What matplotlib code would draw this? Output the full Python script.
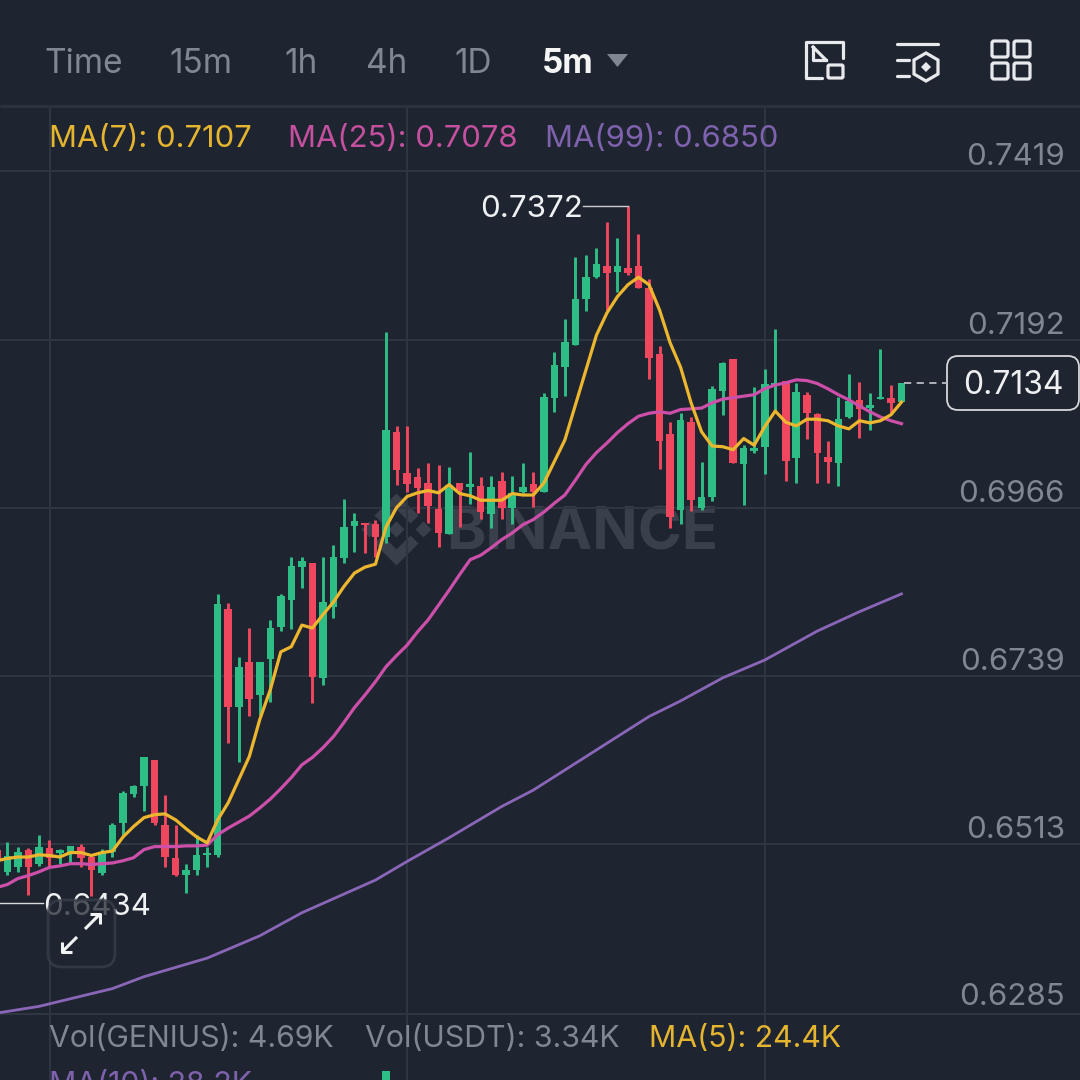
import numpy as np
import matplotlib
matplotlib.use('Agg')
import matplotlib.pyplot as plt
from matplotlib.patches import FancyBboxPatch, Polygon

# candle data (first candle is the one cut by the left edge)
sides = ('RGGRGRGGRR' 'GGGGGRRRGG' 'GGRGRGGGGG' 'RGGGGRRGRR' 'RRRGRGRGRG'
         'GRGGGGGGRG' 'RRRRRGRGGG' 'RGGGGRGRRR' 'GGRGGRG')
highs = [.6508,.6516,.6510,.6508,.6525,.6519,.6507,.6511,.6514,.6499,
         .6507,.6542,.6585,.6593,.6630,.6627,.6580,.6539,.6487,.6526,
         .6510,.6850,.6838,.6765,.6804,.6759,.6815,.6850,.6900,.6900,
         .6892,.6900,.6916,.6978,.6959,.6946,.6950,.7202,.7076,.7076,
         .7020,.7026,.7024,.7021,.6999,.7041,.7007,.7009,.7014,.7009,
         .7026,.7014,.7120,.7176,.7220,.7303,.7306,.7315,.7350,.7329,
         .7372,.7334,.7274,.7184,.7081,.7093,.7088,.7028,.7130,.7162,
         .7166,.7050,.7128,.7153,.7207,.7137,.7134,.7122,.7093,.7056,
         .7115,.7146,.7135,.7120,.7180,.7131,.7134]
body_top = [.6506,.6498,.6503,.6506,.6510,.6508,.6506,.6511,.6510,.6496,
            .6502,.6539,.6582,.6592,.6630,.6627,.6539,.6494,.6479,.6499,
            .6502,.6837,.6829,.6752,.6759,.6759,.6804,.6847,.6888,.6894,
            .6892,.6839,.6900,.6940,.6948,.6946,.6944,.7071,.7068,.7013,
            .7007,.6999,.6964,.6997,.6999,.6998,.6995,.6994,.7002,.6986,
            .6994,.6998,.7115,.7158,.7189,.7247,.7276,.7294,.7291,.7291,
            .7289,.7291,.7262,.7173,.7065,.7084,.7081,.6981,.7126,.7161,
            .7166,.7046,.7046,.7133,.7134,.7137,.7122,.7118,.7092,.7034,
            .7085,.7110,.7111,.7104,.7115,.7114,.7134]
body_bot = [.6490,.6476,.6482,.6483,.6486,.6495,.6502,.6502,.6495,.6479,
            .6475,.6503,.6542,.6581,.6592,.6542,.6496,.6472,.6472,.6479,
            .6499,.6499,.6698,.6698,.6709,.6714,.6763,.6806,.6842,.6886,
            .6738,.6737,.6833,.6898,.6942,.6943,.6927,.6927,.7017,.6998,
            .6993,.6968,.6932,.6931,.6990,.6994,.6960,.6958,.6966,.6966,
            .6987,.6987,.6987,.7114,.7155,.7185,.7247,.7276,.7282,.7283,
            .7282,.7262,.7167,.7056,.6954,.6963,.6976,.6966,.6981,.7123,
            .7026,.7025,.7042,.7048,.7131,.7029,.7033,.7093,.7040,.7028,
            .7026,.7088,.7099,.7100,.7112,.7107,.7108]
lows = [.6478,.6472,.6476,.6445,.6484,.6482,.6486,.6488,.6483,.6443,
        .6472,.6496,.6526,.6577,.6558,.6539,.6483,.6471,.6448,.6472,
        .6482,.6496,.6650,.6624,.6686,.6687,.6705,.6800,.6803,.6858,
        .6703,.6728,.6818,.6892,.6907,.6905,.6900,.6919,.6997,.6987,
        .6959,.6946,.6913,.6931,.6940,.6971,.6951,.6939,.6951,.6944,
        .6986,.6967,.6987,.7095,.7116,.7185,.7231,.7275,.7232,.7256,
        .7279,.7262,.7139,.7018,.6939,.6944,.6962,.6963,.6975,.7091,
        .7026,.6970,.7040,.7011,.7093,.7002,.6999,.7059,.6999,.6999,
        .6995,.7087,.7060,.7071,.7112,.7093,.7108]
ma7 = [.6491,.6494,.6496,.6496,.6499,.6498,.6496,.6502,.6502,.6498,
       .6502,.6504,.6523,.6537,.6549,.6553,.6554,.6546,.6534,.6523,
       .6515,.6546,.6569,.6600,.6631,.6681,.6721,.6772,.6779,.6808,
       .6804,.6822,.6839,.6860,.6878,.6886,.6890,.6940,.6966,.6981,
       .6986,.6989,.6986,.6997,.6985,.6982,.6976,.6976,.6976,.6985,
       .6983,.6983,.6999,.7028,.7057,.7104,.7151,.7198,.7228,.7250,
       .7266,.7276,.7266,.7232,.7188,.7155,.7107,.7068,.7049,.7048,
       .7044,.7059,.7050,.7075,.7096,.7081,.7076,.7085,.7085,.7083,
       .7076,.7072,.7083,.7080,.7083,.7091,.7108]
ma25 = [.6455,.6459,.6467,.6471,.6476,.6482,.6484,.6487,.6487,.6486,
        .6487,.6488,.6491,.6495,.6506,.6510,.6510,.6510,.6511,.6511,
        .6512,.6526,.6535,.6543,.6551,.6562,.6574,.6588,.6603,.6620,
        .6630,.6643,.6658,.6677,.6697,.6714,.6732,.6752,.6767,.6781,
        .6799,.6815,.6835,.6855,.6876,.6896,.6902,.6912,.6923,.6932,
        .6943,.6950,.6960,.6972,.6983,.7003,.7024,.7040,.7053,.7067,
        .7079,.7089,.7093,.7095,.7093,.7098,.7099,.7100,.7107,.7112,
        .7114,.7116,.7118,.7126,.7131,.7134,.7138,.7137,.7133,.7126,
        .7118,.7111,.7103,.7095,.7088,.7083,.7079]
ma99_idx = [-1, 3, 10, 13, 19, 24, 28, 35, 38, 42, 47, 50, 55, 61, 64, 68, 72, 77, 81, 85]
ma99 = [.6286,.6295,.6319,.6335,.6360,.6390,.6421,.6465,.6490,.6522,
        .6564,.6586,.6631,.6685,.6706,.6737,.6761,.6800,.6826,.6850]
grid_prices = [.7419, .7192, .6966, .6739, .6513, .6285]
grid_labels = ['0.7419', '0.7192', '0.6966', '0.6739', '0.6513', '0.6285']
tabs = ['Time', '15m', '1h', '4h', '1D']
vol_idx = [36]
vol_top = [.6208]

BG, GR = '#1F2530', '#303641'
UP, DOWN = '#2EBD85', '#F0475F'
YEL, MAG, PUR = '#EDB62F', '#CC4FAA', '#8A66B8'
GREY = '#7F8792'
plt.rcParams['font.family'] = ['Inter', 'DejaVu Sans']

fig = plt.figure(figsize=(10.8, 10.8), dpi=100)
fig.patch.set_facecolor(BG)

# pixel axes under and over the price axes
under = fig.add_axes([0, 0, 1, 1], zorder=0)
ax = fig.add_axes([0, 0, 1, 1], zorder=1)
over = fig.add_axes([0, 0, 1, 1], zorder=2)
for a in (under, over):
    a.set_xlim(0, 1080); a.set_ylim(1080, 0); a.axis('off')
    a.patch.set_alpha(0)

# --- grid + watermark ---
under.vlines([50, 407, 765], 107, 1080, color=GR, lw=1.5)
under.hlines(106, 0, 1080, color='#2C323D', lw=2.2)
cx, cy = 396.5, 529.5
wm = '#3A404B'
for pts in ([(0,-36),(22,-14),(14,-6),(0,-20),(-14,-6),(-22,-14)],
            [(0,36),(22,14),(14,6),(0,20),(-14,6),(-22,14)],
            [(-35,0),(-27,-8),(-19,0),(-27,8)],
            [(35,0),(27,-8),(19,0),(27,8)],
            [(-8,0),(0,-8),(8,0),(0,8)]):
    under.add_patch(Polygon([(cx+p[0], cy+p[1]) for p in pts], color=wm, lw=0))
under.text(446, 549, 'BINANCE', color=wm, fontsize=43, fontweight='bold', va='baseline')

# --- candles ---
idx = np.arange(-1, 86)
cols = [UP if s == 'G' else DOWN for s in sides]
ax.set_xlim(-0.694, 101.97)
ax.set_ylim(0.6196, 0.7649)
ax.patch.set_alpha(0)
for s in ax.spines.values():
    s.set_visible(False)
ax.set_xticks([])
ax.set_yticks(grid_prices)
ax.tick_params(left=False, labelleft=False)
ax.grid(True, axis='y', color=GR, lw=1.5)
ax.set_axisbelow(True)
ax.vlines(idx, lows, highs, color=cols, lw=2.1, zorder=2)
ax.bar(idx, np.array(body_top) - np.array(body_bot), bottom=body_bot, width=0.72,
       color=cols, lw=0, zorder=3)
ax.bar(vol_idx, np.array(vol_top) - 0.6196, bottom=0.6196, width=0.72, color=UP, lw=0, zorder=3)

# --- moving averages ---
ax.plot(ma99_idx, ma99, color=PUR, lw=2.0, zorder=4)
ax.plot(idx, ma25, color=MAG, lw=2.3, zorder=5)
ax.plot(idx, ma7, color=YEL, lw=2.3, zorder=6)

# --- price labels ---
for p, lab, off in zip(grid_prices, grid_labels, [6, 6, 6, 6, 6, 9]):
    ax.annotate(lab, (1, p), xycoords=('axes fraction', 'data'), xytext=(-15, off),
                textcoords='offset pixels', ha='right', va='baseline',
                color=GREY, fontsize=22.5)

# hi / lo markers
ax.annotate('0.7372', (59, 0.7372), xytext=(-45, -11), textcoords='offset pixels',
            ha='right', va='baseline', color='#F0F1F3', fontsize=22.5)
ax.plot([54.7, 59], [0.7372, 0.7372], color='#C9CCD1', lw=1)
ax.plot([-0.694, 3.4], [0.6434, 0.6434], color='#D8DADD', lw=1)
ax.text(3.4, 0.6434 - 12*0.0001345, '0.6434', color='#F0F1F3', fontsize=22.5, va='baseline')

# --- last price tag ---
over.hlines(383, 904, 947, color='#B9BCC2', lw=1.3, linestyles=(0, (4, 3)))
over.add_patch(FancyBboxPatch((947, 356), 132, 54, boxstyle='round,pad=0,rounding_size=11',
                              fc=BG, ec='#D5D7DB', lw=1.3))
over.text(1013, 394, '0.7134', color='#EEEFF1', fontsize=23, ha='center', va='baseline')

# --- expand button ---
over.add_patch(FancyBboxPatch((48, 900), 67, 67, boxstyle='round,pad=0,rounding_size=14',
                              fc=BG, ec='#3A404B', lw=2, alpha=0.75))
for xs, ys in ([(85, 100), (929, 914)], [(77, 62), (937, 952)],
               [(90, 100, 100), (914, 914, 924)], [(62, 62, 72), (942, 952, 952)]):
    over.plot(xs, ys, color='#F2F3F5', lw=2.2, solid_capstyle='butt')

# --- header ---
for t, x in zip(tabs, [44, 169, 284, 366, 454]):
    over.text(x, 73, t, color=GREY, fontsize=24, va='baseline')
over.text(542, 73, '5m', color='#F5F5F6', fontsize=24, fontweight='bold', va='baseline')
over.add_patch(Polygon([(607, 54), (628, 54), (617.5, 67)], color=GREY, lw=0))

# MA legend row
for x, t, c in [(49, 'MA(7): 0.7107', '#E6B52F'), (288, 'MA(25): 0.7078', '#C4509F'),
                (545, 'MA(99): 0.6850', '#7F62AE')]:
    over.text(x, 147, t, color=c, fontsize=22.3, va='baseline')

# volume legend, last line runs off the bottom in the screenshot too
for x, y, t, c in [(49, 1047, 'Vol(GENIUS): 4.69K', GREY), (365, 1047, 'Vol(USDT): 3.34K', GREY),
                   (649, 1047, 'MA(5): 24.4K', '#E6B52F'), (49, 1093, 'MA(10): 28.2K', '#7F62AE')]:
    over.text(x, y, t, color=c, fontsize=21.8, va='baseline', clip_on=True)

# --- toolbar icons ---
ic = '#E8E9EC'
over.plot([822, 806, 806, 843, 843], [78, 78, 42, 42, 58], color=ic, lw=2.3,
          solid_joinstyle='round', solid_capstyle='round')
over.add_patch(FancyBboxPatch((828, 65), 15, 13, boxstyle='round,pad=0,rounding_size=1.5',
                              fc='none', ec=ic, lw=2.3))
over.plot([813, 825], [47, 59], color=ic, lw=2.3)
over.plot([813, 813, 826], [47, 60, 60], color=ic, lw=2.3)

over.plot([897, 938], [44, 44], color=ic, lw=2.3, solid_capstyle='round')
over.plot([897, 909], [60, 60], color=ic, lw=2.3, solid_capstyle='round')
over.plot([897, 909], [76, 76], color=ic, lw=2.3, solid_capstyle='round')
over.add_patch(Polygon([(926, 53), (938, 60), (938, 74), (926, 81), (914, 74), (914, 60)],
                       fc='none', ec=ic, lw=2.3))
over.add_patch(Polygon([(926, 62), (931, 67), (926, 72), (921, 67)], color=ic, lw=0))

for x in (992, 1014):
    for y in (41, 63):
        over.add_patch(FancyBboxPatch((x, y), 16, 16, boxstyle='round,pad=0,rounding_size=2',
                                      fc='none', ec=ic, lw=2.3))

fig.savefig('out.png', dpi=100, facecolor=BG)
